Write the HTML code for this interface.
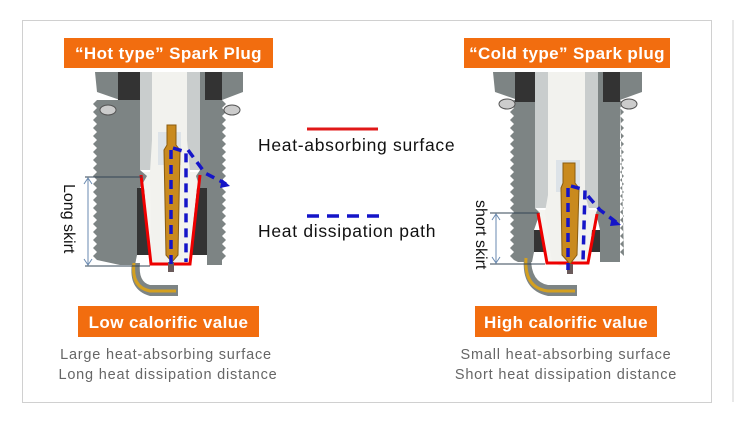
<!DOCTYPE html>
<html><head><style>
body{margin:0;background:#fff;}
svg{display:block;font-family:"Liberation Sans",sans-serif;}
</style></head><body>
<svg width="734" height="422" viewBox="0 0 734 422">
<rect x="22.5" y="20.5" width="689" height="382" fill="#fff" stroke="#d0d0d0"/>
<line x1="733" y1="20" x2="733" y2="402" stroke="#d0d0d0"/>

<!-- LEFT PLUG -->
<g>
<!-- cone light area -->
<path d="M140 172 L202 172 L190 266 L150 266 Z" fill="#f4f4f0"/>
<!-- left shell -->
<path d="M95 72 L140 72 L140 170 L147 176 L140 188 L137 188 L137 255 L135 265 L120 265 L120 100 L97 92 Z" fill="#7d8484"/>
<path d="M120 100 L97 100 l-4 4 l4 4 l-4 4 l4 4 l-4 4 l4 4 l-4 4 l4 4 l-4 4 l4 4 l-4 4 l4 4 l-4 4 l4 4 l-4 4 l4 4 l-4 4 l4 4 l-4 4 l4 4 l-4 4 l4 4 l-4 4 l4 4 l-4 4 l4 4 l-4 4 l4 4 l-4 4 l4 4 l-4 4 l4 4 l-4 4 l4 4 l-4 4 l4 4 l-4 4 l4 4 l-4 4 l4 4 L120 265 Z" fill="#7d8484"/>
<!-- right shell -->
<path d="M200 72 L243 72 L243 92 L222 100 L222 265 L207 265 L207 188 L200 188 L196 176 L200 170 Z" fill="#7d8484"/>
<path d="M222 100 l4 4 l-4 4 l4 4 l-4 4 l4 4 l-4 4 l4 4 l-4 4 l4 4 l-4 4 l4 4 l-4 4 l4 4 l-4 4 l4 4 l-4 4 l4 4 l-4 4 l4 4 l-4 4 l4 4 l-4 4 l4 4 l-4 4 l4 4 l-4 4 l4 4 l-4 4 l4 4 l-4 4 l4 4 l-4 4 l4 4 l-4 4 l4 4 l-4 4 l4 4 l-4 4 l4 4 l-4 4 Z" fill="#7d8484"/>
<rect x="118" y="72" width="22" height="28" fill="#333"/>
<rect x="205" y="72" width="17" height="28" fill="#333"/>
<rect x="140" y="72" width="12" height="98" fill="#c9cdcd"/>
<rect x="187" y="72" width="13" height="98" fill="#c9cdcd"/>
<path d="M137 188 L144 188 L150 255 L137 255 Z" fill="#333"/>
<path d="M197 188 L207 188 L207 255 L190 255 Z" fill="#333"/>
<ellipse cx="108" cy="110" rx="8" ry="5" fill="#ccc" stroke="#555"/>
<ellipse cx="232" cy="110" rx="8" ry="5" fill="#ccc" stroke="#555"/>
<!-- insulator -->
<path d="M152 72 L187 72 L187 140 L190 172 L182 262 L160 266 L152 262 L150 172 L152 140 Z" fill="#f2f2ee"/>
<path d="M158 132 L181 132 L181 165 L158 165 Z" fill="#dde3e8"/>
<path d="M141 175 L151 264 L190 264 L200 175" fill="none" stroke="#e00" stroke-width="3"/>
<path d="M167 125 L176 125 L176 145 L180 150 L178 255 L172 262 L166 255 L164 150 L167 145 Z" fill="#c98a1e" stroke="#8a5c10"/>
<rect x="168" y="262" width="6" height="10" fill="#6a5a5a"/>
<path d="M132 263 Q128 290 150 296 L178 296 L178 285 L150 285 Q138 282 140 263 Z" fill="#7d8484"/>
<path d="M134 263 Q131 287 150 291 L176 291" fill="none" stroke="#d4a020" stroke-width="3"/>
<path d="M171 150 L171 268 M173 148 L186 152 L186 262 M188 150 L205 173 L226 184" fill="none" stroke="#1515c8" stroke-width="3.5" stroke-dasharray="9 6"/>
<path d="M222 179 L230 186 L220 188 Z" fill="#1515c8"/>
<line x1="85" y1="177" x2="142" y2="177" stroke="#345"/>
<line x1="85" y1="266" x2="150" y2="266" stroke="#345"/>
<line x1="88" y1="178" x2="88" y2="265" stroke="#6a8ab0"/>
<path d="M84 184 L88 178 L92 184 M84 259 L88 265 L92 259" fill="none" stroke="#6a8ab0"/>
<text transform="translate(64,184) rotate(90)" font-size="16" fill="#111">Long skirt</text>
</g>

<!-- RIGHT PLUG -->
<g>
<path d="M537 210 L598 210 L588 264 L547 264 Z" fill="#f4f4f0"/>
<path d="M493 72 L535 72 L535 208 L540 213 L534 230 L534 252 L532 262 L518 262 L518 100 L495 92 Z" fill="#7d8484"/>
<path d="M518 100 L514 100 l-4 4 l4 4 l-4 4 l4 4 l-4 4 l4 4 l-4 4 l4 4 l-4 4 l4 4 l-4 4 l4 4 l-4 4 l4 4 l-4 4 l4 4 l-4 4 l4 4 l-4 4 l4 4 l-4 4 l4 4 l-4 4 l4 4 l-4 4 l4 4 l-4 4 l4 4 l-4 4 l4 4 l-4 4 l4 4 l-4 4 l4 4 l-4 4 l4 4 l-4 4 l4 4 l-4 4 l4 4 L518 262 Z" fill="#7d8484"/>
<path d="M598 72 L642 72 L642 92 L620 100 L620 262 L600 262 L600 230 L596 213 L598 208 Z" fill="#7d8484"/>
<path d="M620 100 l4 4 l-4 4 l4 4 l-4 4 l4 4 l-4 4 l4 4 l-4 4 l4 4 l-4 4 l4 4 l-4 4 l4 4 l-4 4 l4 4 l-4 4 l4 4 l-4 4 l4 4 l-4 4 l4 4 l-4 4 l4 4 l-4 4 l4 4 l-4 4 l4 4 l-4 4 l4 4 l-4 4 l4 4 l-4 4 l4 4 l-4 4 l4 4 l-4 4 l4 4 l-4 4 l4 4 Z" fill="#7d8484"/>
<rect x="515" y="72" width="20" height="30" fill="#333"/>
<rect x="603" y="72" width="17" height="30" fill="#333"/>
<rect x="535" y="72" width="13" height="136" fill="#c9cdcd"/>
<rect x="585" y="72" width="13" height="136" fill="#c9cdcd"/>
<path d="M534 230 L542 230 L546 252 L534 252 Z" fill="#333"/>
<path d="M592 230 L600 230 L600 252 L590 252 Z" fill="#333"/>
<ellipse cx="507" cy="104" rx="8" ry="5" fill="#ccc" stroke="#555"/>
<ellipse cx="629" cy="104" rx="8" ry="5" fill="#ccc" stroke="#555"/>
<path d="M548 72 L585 72 L585 195 L590 212 L582 262 L560 266 L552 262 L545 212 L548 195 Z" fill="#f2f2ee"/>
<path d="M556 160 L580 160 L580 192 L556 192 Z" fill="#dde3e8"/>
<path d="M538 213 L547 263 L588 263 L597 214" fill="none" stroke="#e00" stroke-width="3"/>
<path d="M563 163 L575 163 L575 183 L579 188 L577 255 L570 264 L562 255 L561 188 L563 183 Z" fill="#c98a1e" stroke="#8a5c10"/>
<rect x="567" y="264" width="6" height="10" fill="#6a5a5a"/>
<path d="M524 258 Q521 290 548 296 L577 296 L577 285 L548 285 Q531 282 531 258 Z" fill="#7d8484"/>
<path d="M526 258 Q524 288 548 291 L575 291" fill="none" stroke="#d4a020" stroke-width="3"/>
<path d="M568 188 L568 270 M571 186 L585 190 L583 262 M588 196 L600 210 L616 222" fill="none" stroke="#1515c8" stroke-width="3.5" stroke-dasharray="9 6"/>
<path d="M612 217 L621 225 L610 226 Z" fill="#1515c8"/>
<line x1="490" y1="213" x2="538" y2="213" stroke="#345"/>
<line x1="490" y1="264" x2="545" y2="264" stroke="#345"/>
<line x1="496" y1="214" x2="496" y2="263" stroke="#6a8ab0"/>
<path d="M492 220 L496 214 L500 220 M492 257 L496 263 L500 257" fill="none" stroke="#6a8ab0"/>
<text transform="translate(476,200) rotate(90)" font-size="16" fill="#111">short skirt</text>
</g>

<!-- Title boxes -->
<rect x="64" y="38" width="209" height="30" fill="#f26d0f"/>
<text x="168.5" y="59" font-size="17" font-weight="bold" letter-spacing="0.4" fill="#fff" text-anchor="middle">“Hot type” Spark Plug</text>
<rect x="464" y="38" width="206" height="30" fill="#f26d0f"/>
<text x="567" y="59" font-size="17" font-weight="bold" letter-spacing="0.4" fill="#fff" text-anchor="middle">“Cold type” Spark plug</text>
<rect x="78" y="306" width="181" height="31" fill="#f26d0f"/>
<text x="168.5" y="328" font-size="17" font-weight="bold" letter-spacing="0.4" fill="#fff" text-anchor="middle">Low calorific value</text>
<rect x="475" y="306" width="182" height="31" fill="#f26d0f"/>
<text x="566" y="328" font-size="17" font-weight="bold" letter-spacing="0.4" fill="#fff" text-anchor="middle">High calorific value</text>

<!-- Legend -->
<line x1="307" y1="129" x2="378" y2="129" stroke="#e01818" stroke-width="3"/>
<text x="258" y="151" font-size="17.5" letter-spacing="0.7" fill="#111">Heat-absorbing surface</text>
<line x1="307" y1="216" x2="382" y2="216" stroke="#1515c8" stroke-width="3.5" stroke-dasharray="12 8"/>
<text x="258" y="237" font-size="17.5" letter-spacing="0.7" fill="#111">Heat dissipation path</text>

<text x="166" y="359" font-size="14.5" letter-spacing="0.8" fill="#666" text-anchor="middle">Large heat-absorbing surface</text>
<text x="168" y="379" font-size="14.5" letter-spacing="0.8" fill="#666" text-anchor="middle">Long heat dissipation distance</text>
<text x="566" y="359" font-size="14.5" letter-spacing="0.8" fill="#666" text-anchor="middle">Small heat-absorbing surface</text>
<text x="566" y="379" font-size="14.5" letter-spacing="0.8" fill="#666" text-anchor="middle">Short heat dissipation distance</text>
</svg>
</body></html>
